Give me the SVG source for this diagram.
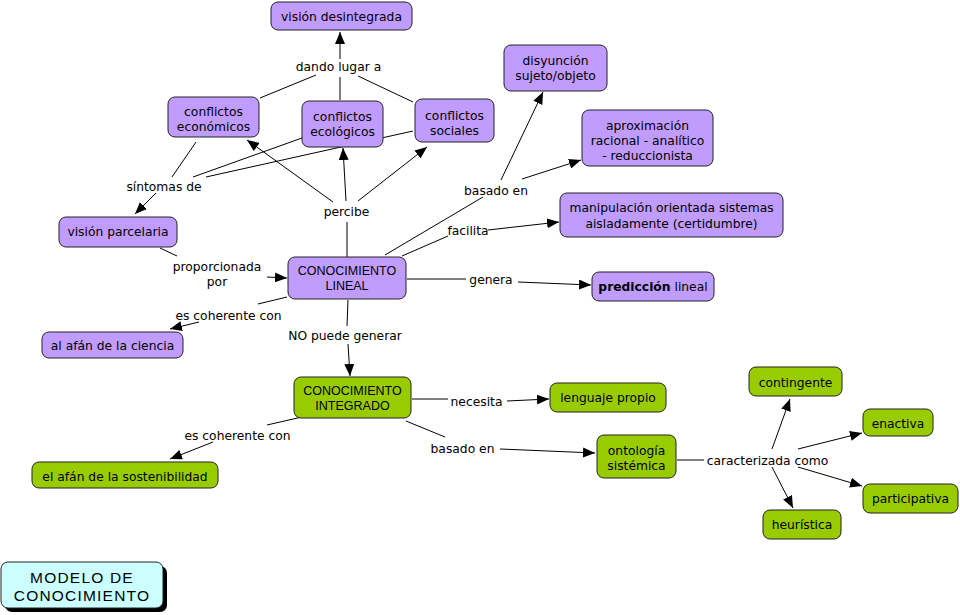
<svg xmlns="http://www.w3.org/2000/svg" width="960" height="615" viewBox="0 0 960 615">
<defs>
<marker id="ah" markerUnits="userSpaceOnUse" markerWidth="12" markerHeight="10" refX="12" refY="5" orient="auto">
<path d="M0,0 L12,5 L0,10 z" fill="#000"/>
</marker>
<style>
.c line{stroke:#000;stroke-width:1;fill:none}
.c line.a{marker-end:url(#ah)}
.p rect{fill:#c19cff;stroke:#222;stroke-width:1}
.g rect{fill:#99cc00;stroke:#222;stroke-width:1}
text{font-family:"DejaVu Sans",Verdana,sans-serif;font-size:12.3px;fill:#000;text-anchor:middle}
text.u{font-family:"Liberation Sans",Arial,sans-serif;font-size:12.5px}
text.t{font-family:"Liberation Sans",Arial,sans-serif;font-size:15.5px;letter-spacing:1.2px}
</style>
</defs>
<rect width="960" height="615" fill="#fff"/>
<g class="c" id="connectors">
<line x1="260" y1="98" x2="316" y2="75"/>
<line x1="340" y1="100" x2="340" y2="77"/>
<line x1="413" y1="102" x2="358" y2="76"/>
<line x1="196" y1="142" x2="172" y2="177"/>
<line x1="302" y1="138" x2="193" y2="177"/>
<line x1="413" y1="131" x2="206" y2="177"/>
<line x1="347" y1="257" x2="347" y2="222"/>
<line x1="160" y1="248" x2="177" y2="256"/>
<line x1="287" y1="297" x2="258" y2="304"/>
<line x1="385" y1="255" x2="483" y2="197"/>
<line x1="402" y1="256" x2="448" y2="236"/>
<line x1="407" y1="279" x2="466" y2="279"/>
<line x1="348" y1="300" x2="347" y2="326"/>
<line x1="412" y1="399" x2="448" y2="399"/>
<line x1="302" y1="417" x2="267" y2="425"/>
<line x1="406" y1="421" x2="445" y2="437"/>
<line x1="677" y1="460" x2="704" y2="460"/>
<line class="a" x1="340" y1="59" x2="340" y2="32"/>
<line class="a" x1="333" y1="202" x2="247" y2="140"/>
<line class="a" x1="346" y1="201" x2="343" y2="148"/>
<line class="a" x1="358" y1="201" x2="427" y2="147"/>
<line class="a" x1="156" y1="193" x2="135" y2="214"/>
<line class="a" x1="267" y1="277" x2="287" y2="278"/>
<line class="a" x1="199" y1="322" x2="170" y2="329"/>
<line class="a" x1="501" y1="180" x2="543" y2="92"/>
<line class="a" x1="522" y1="179" x2="581" y2="160"/>
<line class="a" x1="488" y1="230" x2="559" y2="222"/>
<line class="a" x1="518" y1="282" x2="591" y2="285"/>
<line class="a" x1="348" y1="344" x2="350" y2="376"/>
<line class="a" x1="507" y1="401" x2="549" y2="399"/>
<line class="a" x1="213" y1="442" x2="170" y2="459"/>
<line class="a" x1="500" y1="449" x2="595" y2="453"/>
<line class="a" x1="772" y1="449" x2="790" y2="399"/>
<line class="a" x1="798" y1="449" x2="862" y2="433"/>
<line class="a" x1="798" y1="467" x2="862" y2="486"/>
<line class="a" x1="772" y1="467" x2="793" y2="508"/>
</g>
<g id="links">
<text x="338.5" y="70.5">dando lugar a</text>
<text x="164" y="191">síntomas de</text>
<text x="346.5" y="216">percibe</text>
<text x="496" y="194.5">basado en</text>
<text x="468" y="234.5">facilita</text>
<text x="217" y="270.5">proporcionada</text>
<text x="217" y="285.5">por</text>
<text x="491" y="283.5">genera</text>
<text x="228.5" y="319.5">es coherente con</text>
<text x="345" y="339.5">NO puede generar</text>
<text x="476.5" y="405.5">necesita</text>
<text x="237.5" y="439.5">es coherente con</text>
<text x="462.5" y="452.5">basado en</text>
<text x="767.5" y="465">caracterizada como</text>
</g>
<g id="n1" class="p"><rect x="271" y="2" width="141" height="28" rx="7"/><text x="341.5" y="20.5">visión desintegrada</text></g>
<g id="n2" class="p"><rect x="168" y="97" width="91" height="40" rx="7"/><text x="213.5" y="116">conflictos</text><text x="213.5" y="131">económicos</text></g>
<g id="n3" class="p"><rect x="302" y="101" width="81" height="46" rx="7"/><text x="342.5" y="121">conflictos</text><text x="342.5" y="136">ecológicos</text></g>
<g id="n4" class="p"><rect x="415" y="99" width="79" height="43" rx="7"/><text x="454.5" y="120">conflictos</text><text x="454.5" y="135">sociales</text></g>
<g id="n5" class="p"><rect x="504" y="45" width="103" height="46" rx="7"/><text x="555.5" y="65">disyunción</text><text x="555.5" y="79.5">sujeto/objeto</text></g>
<g id="n6" class="p"><rect x="582" y="110" width="131" height="56" rx="7"/><text x="647.5" y="129.5">aproximación</text><text x="647.5" y="144.5">racional - analítico</text><text x="647.5" y="159.5">- reduccionista</text></g>
<g id="n7" class="p"><rect x="560" y="193" width="223" height="44" rx="7"/><text x="671.5" y="212">manipulación orientada sistemas</text><text x="671.5" y="227.5">aisladamente (certidumbre)</text></g>
<g id="n8" class="p"><rect x="59" y="217" width="118" height="30" rx="7"/><text x="118" y="236">visión parcelaria</text></g>
<g id="n9" class="p"><rect x="42" y="332" width="141" height="26" rx="7"/><text x="112.5" y="349.5">al afán de la ciencia</text></g>
<g id="n10" class="p"><rect x="288" y="257" width="118" height="42" rx="7"/><text class="u" x="347" y="275">CONOCIMIENTO</text><text class="u" x="347" y="290">LINEAL</text></g>
<g id="n11" class="p"><rect x="592" y="272" width="122" height="29" rx="7"/><text x="653" y="291"><tspan font-weight="bold">predicción</tspan> lineal</text></g>
<g id="n12" class="g"><rect x="294" y="377" width="117" height="41" rx="7"/><text class="u" x="352.5" y="395">CONOCIMIENTO</text><text class="u" x="352.5" y="409.5">INTEGRADO</text></g>
<g id="n13" class="g"><rect x="550" y="383" width="116" height="29" rx="7"/><text x="608" y="402">lenguaje propio</text></g>
<g id="n14" class="g"><rect x="32" y="462" width="186" height="26" rx="7"/><text x="125" y="480.5">el afán de la sostenibilidad</text></g>
<g id="n15" class="g"><rect x="597" y="435" width="79" height="43" rx="7"/><text x="636.5" y="455">ontología</text><text x="636.5" y="470">sistémica</text></g>
<g id="n16" class="g"><rect x="749" y="367" width="93" height="29" rx="7"/><text x="795.5" y="387">contingente</text></g>
<g id="n17" class="g"><rect x="863" y="409" width="70" height="27" rx="7"/><text x="898" y="427.5">enactiva</text></g>
<g id="n18" class="g"><rect x="863" y="484" width="95" height="29" rx="7"/><text x="910.5" y="502.5">participativa</text></g>
<g id="n19" class="g"><rect x="763" y="510" width="78" height="29" rx="7"/><text x="802" y="528.5">heurística</text></g>
<g id="n20"><rect x="5" y="566" width="162" height="46" rx="7" fill="#000"/><rect x="1" y="562" width="162" height="46" rx="7" fill="#ccffff" stroke="#222" stroke-width="1"/><text class="t" x="82" y="582.5">MODELO DE</text><text class="t" x="82" y="600.5">CONOCIMIENTO</text></g>
</svg>
